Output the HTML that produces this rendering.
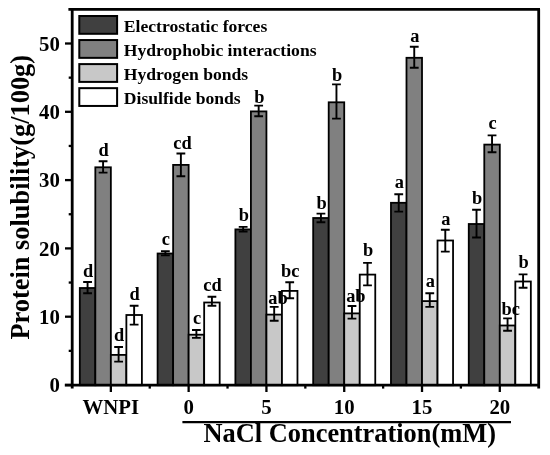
<!DOCTYPE html>
<html><head><meta charset="utf-8"><style>
html,body{margin:0;padding:0;background:#fff;}
body{width:550px;height:455px;overflow:hidden;}
svg{display:block;}
</style></head><body>
<svg width="550" height="455" viewBox="0 0 550 455">
<rect width="550" height="455" fill="#fff"/>
<g stroke="#000" stroke-width="1.80">
<rect x="79.81" y="288.00" width="15.52" height="97.20" fill="#404040"/>
<rect x="95.33" y="167.30" width="15.52" height="217.90" fill="#808080"/>
<rect x="110.85" y="354.90" width="15.52" height="30.30" fill="#c8c8c8"/>
<rect x="126.37" y="315.00" width="15.52" height="70.20" fill="#ffffff"/>
<rect x="157.60" y="253.50" width="15.52" height="131.70" fill="#404040"/>
<rect x="173.12" y="164.90" width="15.52" height="220.30" fill="#808080"/>
<rect x="188.64" y="334.70" width="15.52" height="50.50" fill="#c8c8c8"/>
<rect x="204.16" y="302.50" width="15.52" height="82.70" fill="#ffffff"/>
<rect x="235.39" y="229.40" width="15.52" height="155.80" fill="#404040"/>
<rect x="250.91" y="111.40" width="15.52" height="273.80" fill="#808080"/>
<rect x="266.43" y="314.60" width="15.52" height="70.60" fill="#c8c8c8"/>
<rect x="281.95" y="290.90" width="15.52" height="94.30" fill="#ffffff"/>
<rect x="313.18" y="218.00" width="15.52" height="167.20" fill="#404040"/>
<rect x="328.70" y="102.30" width="15.52" height="282.90" fill="#808080"/>
<rect x="344.22" y="313.40" width="15.52" height="71.80" fill="#c8c8c8"/>
<rect x="359.74" y="274.60" width="15.52" height="110.60" fill="#ffffff"/>
<rect x="390.97" y="202.80" width="15.52" height="182.40" fill="#404040"/>
<rect x="406.49" y="57.80" width="15.52" height="327.40" fill="#808080"/>
<rect x="422.01" y="301.10" width="15.52" height="84.10" fill="#c8c8c8"/>
<rect x="437.53" y="240.50" width="15.52" height="144.70" fill="#ffffff"/>
<rect x="468.76" y="224.00" width="15.52" height="161.20" fill="#404040"/>
<rect x="484.28" y="144.60" width="15.52" height="240.60" fill="#808080"/>
<rect x="499.80" y="325.50" width="15.52" height="59.70" fill="#c8c8c8"/>
<rect x="515.32" y="281.50" width="15.52" height="103.70" fill="#ffffff"/>
</g>
<g stroke="#000" stroke-width="1.9" fill="none">
<path d="M87.57 282.00V293.20M83.17 282.00H91.97M83.17 293.20H91.97"/>
<path d="M103.09 161.30V172.60M98.69 161.30H107.49M98.69 172.60H107.49"/>
<path d="M118.61 347.00V361.60M114.21 347.00H123.01M114.21 361.60H123.01"/>
<path d="M134.13 305.70V324.60M129.73 305.70H138.53M129.73 324.60H138.53"/>
<path d="M165.36 251.20V255.40M160.96 251.20H169.76M160.96 255.40H169.76"/>
<path d="M180.88 153.50V176.30M176.48 153.50H185.28M176.48 176.30H185.28"/>
<path d="M196.40 330.00V337.90M192.00 330.00H200.80M192.00 337.90H200.80"/>
<path d="M211.92 296.80V305.70M207.52 296.80H216.32M207.52 305.70H216.32"/>
<path d="M243.15 226.90V231.50M238.75 226.90H247.55M238.75 231.50H247.55"/>
<path d="M258.67 105.60V116.20M254.27 105.60H263.07M254.27 116.20H263.07"/>
<path d="M274.19 306.90V320.80M269.79 306.90H278.59M269.79 320.80H278.59"/>
<path d="M289.71 282.30V298.30M285.31 282.30H294.11M285.31 298.30H294.11"/>
<path d="M320.94 213.60V222.30M316.54 213.60H325.34M316.54 222.30H325.34"/>
<path d="M336.46 84.40V118.60M332.06 84.40H340.86M332.06 118.60H340.86"/>
<path d="M351.98 306.00V318.60M347.58 306.00H356.38M347.58 318.60H356.38"/>
<path d="M367.50 262.90V285.40M363.10 262.90H371.90M363.10 285.40H371.90"/>
<path d="M398.73 194.20V211.60M394.33 194.20H403.13M394.33 211.60H403.13"/>
<path d="M414.25 46.80V67.70M409.85 46.80H418.65M409.85 67.70H418.65"/>
<path d="M429.77 293.30V306.90M425.37 293.30H434.17M425.37 306.90H434.17"/>
<path d="M445.29 229.80V251.60M440.89 229.80H449.69M440.89 251.60H449.69"/>
<path d="M476.52 209.80V237.50M472.12 209.80H480.92M472.12 237.50H480.92"/>
<path d="M492.04 135.40V152.30M487.64 135.40H496.44M487.64 152.30H496.44"/>
<path d="M507.56 318.40V330.80M503.16 318.40H511.96M503.16 330.80H511.96"/>
<path d="M523.08 274.40V287.70M518.68 274.40H527.48M518.68 287.70H527.48"/>
</g>
<g font-family="Liberation Serif, serif" font-weight="bold" font-size="18.4" text-anchor="middle" fill="#000">
<text x="88.17" y="277.20">d</text>
<text x="103.69" y="155.50">d</text>
<text x="119.21" y="341.00">d</text>
<text x="134.73" y="299.60">d</text>
<text x="165.96" y="245.40">c</text>
<text x="182.48" y="148.80">cd</text>
<text x="197.00" y="324.30">c</text>
<text x="212.52" y="291.00">cd</text>
<text x="243.75" y="220.80">b</text>
<text x="259.27" y="102.60">b</text>
<text x="278.09" y="303.80">ab</text>
<text x="290.31" y="276.80">bc</text>
<text x="321.54" y="208.50">b</text>
<text x="337.06" y="80.80">b</text>
<text x="355.88" y="302.30">ab</text>
<text x="368.10" y="256.20">b</text>
<text x="399.33" y="188.00">a</text>
<text x="414.85" y="41.50">a</text>
<text x="430.37" y="287.10">a</text>
<text x="445.89" y="225.40">a</text>
<text x="477.12" y="204.00">b</text>
<text x="492.64" y="129.20">c</text>
<text x="510.66" y="314.50">bc</text>
<text x="523.68" y="268.30">b</text>
</g>
<g stroke="#000" stroke-width="2.8" fill="none" stroke-linecap="butt">
<path d="M72.2 388.5V9.3M68.4 9.3H540.0M538.7 9.3V388.5M64.8 385.2H540.0"/>
</g>
<g stroke="#000" stroke-width="2.3" fill="none">
<path d="M65 385.00H72.2"/>
<path d="M68.7 350.85H72.2"/>
<path d="M65 316.70H72.2"/>
<path d="M68.7 282.55H72.2"/>
<path d="M65 248.40H72.2"/>
<path d="M68.7 214.25H72.2"/>
<path d="M65 180.10H72.2"/>
<path d="M68.7 145.95H72.2"/>
<path d="M65 111.80H72.2"/>
<path d="M68.7 77.65H72.2"/>
<path d="M65 43.50H72.2"/>
<path d="M110.85 385.2V392"/>
<path d="M149.75 385.2V388.6"/>
<path d="M188.64 385.2V392"/>
<path d="M227.53 385.2V388.6"/>
<path d="M266.43 385.2V392"/>
<path d="M305.32 385.2V388.6"/>
<path d="M344.22 385.2V392"/>
<path d="M383.12 385.2V388.6"/>
<path d="M422.01 385.2V392"/>
<path d="M460.90 385.2V388.6"/>
<path d="M499.80 385.2V392"/>
</g>
<g font-family="Liberation Serif, serif" font-weight="bold" font-size="20.8" text-anchor="end" fill="#000">
<text x="59.8" y="392.20">0</text>
<text x="59.8" y="323.90">10</text>
<text x="59.8" y="255.60">20</text>
<text x="59.8" y="187.30">30</text>
<text x="59.8" y="119.00">40</text>
<text x="59.8" y="50.70">50</text>
</g>
<g font-family="Liberation Serif, serif" font-weight="bold" font-size="20.8" text-anchor="middle" fill="#000">
<text x="110.85" y="414.3">WNPI</text>
<text x="188.64" y="414.3">0</text>
<text x="266.43" y="414.3">5</text>
<text x="344.22" y="414.3">10</text>
<text x="422.01" y="414.3">15</text>
<text x="499.80" y="414.3">20</text>
</g>
<path d="M182.4 422.2H511" stroke="#000" stroke-width="2.2"/>
<text x="203.5" y="442.2" font-family="Liberation Serif, serif" font-weight="bold" font-size="26.4" fill="#000">NaCl Concentration(mM)</text>
<text transform="translate(29.0 339.6) rotate(-90)" x="0" y="0" font-family="Liberation Serif, serif" font-weight="bold" font-size="26.4" fill="#000">Protein solubility(g/100g)</text>
<g stroke="#000" stroke-width="2">
<rect x="79.3" y="16.00" width="37.8" height="17.8" fill="#404040"/>
<rect x="79.3" y="40.05" width="37.8" height="17.8" fill="#808080"/>
<rect x="79.3" y="64.10" width="37.8" height="17.8" fill="#c8c8c8"/>
<rect x="79.3" y="88.15" width="37.8" height="17.8" fill="#ffffff"/>
</g>
<g font-family="Liberation Serif, serif" font-weight="bold" font-size="17.6" fill="#000">
<text x="123.8" y="32.00">Electrostatic forces</text>
<text x="123.8" y="56.00">Hydrophobic interactions</text>
<text x="123.8" y="80.00">Hydrogen bonds</text>
<text x="123.8" y="104.00">Disulfide bonds</text>
</g>
</svg>
</body></html>
